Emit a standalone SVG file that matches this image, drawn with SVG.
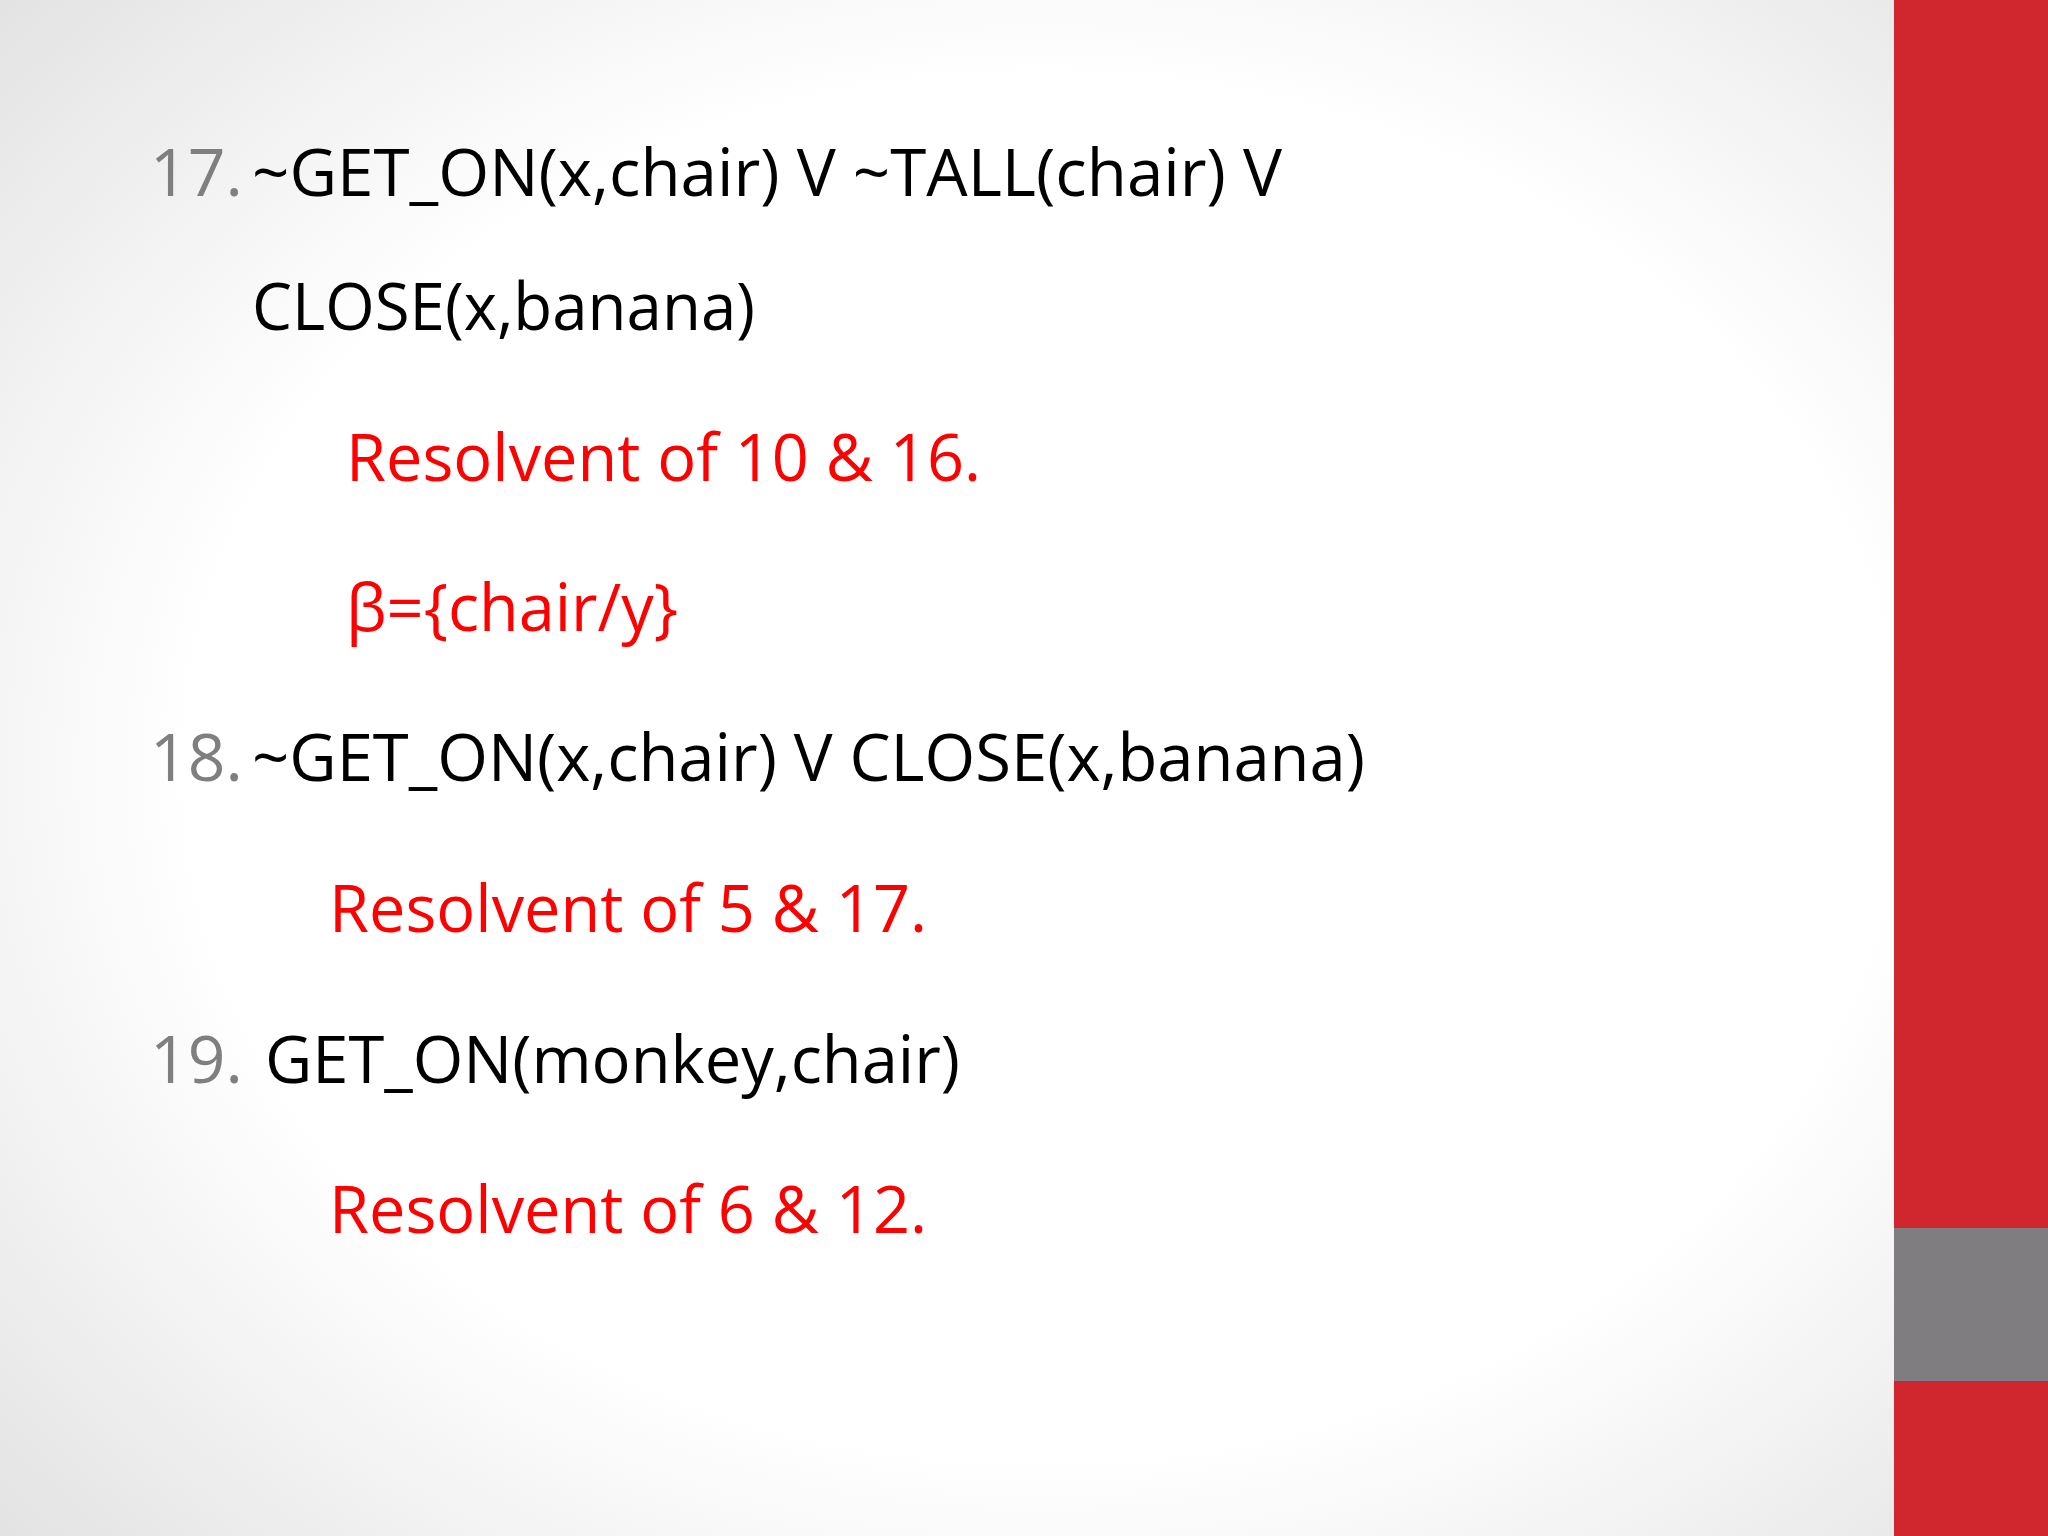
<svg xmlns="http://www.w3.org/2000/svg" width="2048" height="1536" viewBox="0 0 2048 1536">
<defs>
<radialGradient id="bg" cx="0.55" cy="0.5" r="0.75">
<stop offset="0.6" stop-color="#ffffff"/>
<stop offset="1" stop-color="#e2e2e2"/>
</radialGradient>
<style>
text{font-family:"Open Sans","Liberation Sans",sans-serif;font-size:66px}
.n{fill:#7f7f7f}.b{fill:#000}.r{fill:#ff0000}
</style>
</defs>
<rect width="1894" height="1536" fill="url(#bg)"/>
<rect x="1894" y="0" width="154" height="1536" fill="#d0262e"/>
<rect x="1894" y="1228" width="154" height="153" fill="#7f7d80"/>
<g id="item17">
<text class="n" x="150" y="196">17.</text>
<text class="b" x="252" y="196" textLength="1030" lengthAdjust="spacingAndGlyphs">~GET_ON(x,chair) V ~TALL(chair) V</text>
<text class="b" x="252" y="330" textLength="503" lengthAdjust="spacingAndGlyphs">CLOSE(x,banana)</text>
<text class="r" x="346" y="481" textLength="635" lengthAdjust="spacingAndGlyphs">Resolvent of 10 &amp; 16.</text>
<text class="r" x="346" y="631" textLength="332" lengthAdjust="spacingAndGlyphs">β={chair/y}</text>
</g>
<g id="item18">
<text class="n" x="150" y="781">18.</text>
<text class="b" x="252" y="781" textLength="1113" lengthAdjust="spacingAndGlyphs">~GET_ON(x,chair) V CLOSE(x,banana)</text>
<text class="r" x="329" y="932" textLength="598" lengthAdjust="spacingAndGlyphs">Resolvent of 5 &amp; 17.</text>
</g>
<g id="item19">
<text class="n" x="150" y="1083">19.</text>
<text class="b" x="265" y="1083" textLength="695" lengthAdjust="spacingAndGlyphs">GET_ON(monkey,chair)</text>
<text class="r" x="329" y="1233" textLength="598" lengthAdjust="spacingAndGlyphs">Resolvent of 6 &amp; 12.</text>
</g>
</svg>
